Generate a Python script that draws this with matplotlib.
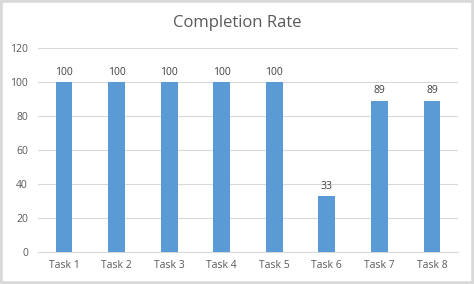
import matplotlib
matplotlib.use("Agg")
import matplotlib.pyplot as plt
from matplotlib.patches import Rectangle

categories = ["Task 1", "Task 2", "Task 3", "Task 4", "Task 5", "Task 6", "Task 7", "Task 8"]
values = [100, 100, 100, 100, 100, 33, 89, 89]
yticks = [0, 20, 40, 60, 80, 100, 120]

plt.rcParams['font.family'] = ['Open Sans', 'DejaVu Sans']
txt = "#595959"

fig = plt.figure(figsize=(4.74, 2.84), dpi=100)
fig.patch.set_facecolor("white")
fig.patches.append(Rectangle((0, 0), 1, 1, transform=fig.transFigure, fill=False,
                             edgecolor="#D9D9D9", linewidth=4, zorder=10))

ax = fig.add_axes([37.7/474, 1 - 252/284, (458.3-37.7)/474, (252-48)/284])
x = range(len(categories))
ax.bar(x, values, width=0.32, color="#5B9BD5", zorder=3)
for xi, v in zip(x, values):
    ax.text(xi, v + 2.5, str(v), ha="center", va="bottom", fontsize=7.5, color="#404040")

ax.set_xlim(-0.5, len(categories) - 0.5)
ax.set_ylim(0, 120)
ax.set_yticks(yticks)
ax.set_xticks(list(x))
ax.set_xticklabels(categories)
ax.yaxis.grid(True, color="#D9D9D9", linewidth=0.8, zorder=0)
for s in ["top", "right", "left"]:
    ax.spines[s].set_visible(False)
ax.spines["bottom"].set_color("#D9D9D9")
ax.tick_params(axis="both", length=0, labelsize=7.5, colors=txt)
ax.tick_params(axis="x", pad=6)
ax.tick_params(axis="y", pad=7)

fig.text(0.5, 1 - 23/284, "Completion Rate", ha="center", va="center", fontsize=12, color=txt)

fig.savefig("out.png", dpi=100)
